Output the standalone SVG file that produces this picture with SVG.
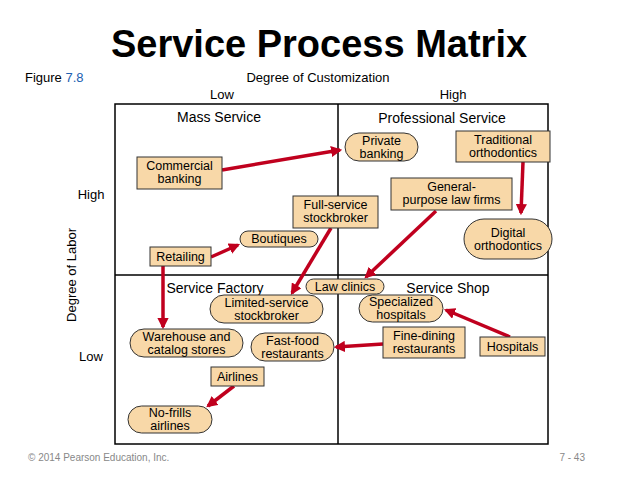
<svg xmlns="http://www.w3.org/2000/svg" width="638" height="478" viewBox="0 0 638 478">
<defs>
<style>
text{font-family:"Liberation Sans",Arial,sans-serif;fill:#000}
.n{fill:#f8d8a8;stroke:#333;stroke-width:1}
.t{font-size:12.5px;text-anchor:middle}
.q{font-size:14px;text-anchor:middle}
.c{stroke:#c0001e;stroke-width:3.5;fill:none;marker-end:url(#a)}
.g{stroke:#000;stroke-width:1.5;fill:none}
</style>
<marker id="a" viewBox="0 0 10 10" refX="8" refY="5" markerWidth="3.2" markerHeight="3.2" orient="auto"><path d="M0,0L10,5L0,10z" fill="#c0001e"/></marker>
</defs>
<rect width="638" height="478" fill="#fff"/>
<text x="319" y="57" style="font-size:38px;font-weight:bold;text-anchor:middle">Service Process Matrix</text>
<text x="25" y="82" style="font-size:13px">Figure <tspan fill="#2060b0">7.8</tspan></text>
<text x="318" y="82" class="q" style="font-size:13px">Degree of Customization</text>
<text x="222" y="99" class="q" style="font-size:13px">Low</text>
<text x="453" y="99" class="q" style="font-size:13px">High</text>
<text x="91" y="199" class="q" style="font-size:13px">High</text>
<text x="91" y="361" class="q" style="font-size:13px">Low</text>
<text transform="translate(76,275) rotate(-90)" class="q" style="font-size:13px">Degree of Labor</text>
<g id="grid">
<rect x="115" y="104" width="433" height="340" class="g"/>
<line x1="338" y1="104" x2="338" y2="444" class="g"/>
<line x1="115" y1="275" x2="548" y2="275" class="g"/>
<text x="219" y="122" class="q">Mass Service</text>
<text x="442" y="123" class="q">Professional Service</text>
<text x="215" y="293" class="q">Service Factory</text>
<text x="448" y="293" class="q">Service Shop</text>
</g>
<g id="connectors">
<line x1="222" y1="170" x2="340" y2="150" class="c"/>
<line x1="523" y1="162" x2="521" y2="213" class="c"/>
<line x1="436" y1="211" x2="366" y2="277" class="c"/>
<line x1="331" y1="228" x2="292" y2="293" class="c"/>
<line x1="211" y1="257" x2="238" y2="245" class="c"/>
<line x1="163" y1="266" x2="163" y2="327" class="c"/>
<line x1="383" y1="344" x2="336" y2="347" class="c"/>
<line x1="510" y1="337" x2="446" y2="310" class="c"/>
<line x1="234" y1="386" x2="208" y2="406" class="c"/>
</g>
<g id="commercial"><rect x="137" y="157" width="85" height="32" class="n"/><text x="179.5" y="170" class="t">Commercial</text><text x="179.5" y="183" class="t">banking</text></g>
<g id="private"><rect x="345" y="133" width="73" height="28" rx="14" class="n"/><text x="381.5" y="145" class="t">Private</text><text x="381.5" y="158" class="t">banking</text></g>
<g id="trad"><rect x="456" y="131" width="94" height="31" class="n"/><text x="503" y="144" class="t">Traditional</text><text x="503" y="157" class="t">orthodontics</text></g>
<g id="general"><rect x="391" y="178" width="121" height="32" class="n"/><text x="451.5" y="191" class="t">General-</text><text x="451.5" y="204" class="t">purpose law firms</text></g>
<g id="fullservice"><rect x="293" y="196" width="85" height="32" class="n"/><text x="335.5" y="209" class="t">Full-service</text><text x="335.5" y="222" class="t">stockbroker</text></g>
<g id="digital"><rect x="464" y="219" width="88" height="40" rx="20" class="n"/><text x="508" y="237" class="t">Digital</text><text x="508" y="250" class="t">orthodontics</text></g>
<g id="boutiques"><rect x="240" y="231" width="78" height="16" rx="8" class="n"/><text x="279" y="243" class="t">Boutiques</text></g>
<g id="retailing"><rect x="150" y="247" width="61" height="19" class="n"/><text x="180.5" y="261" class="t">Retailing</text></g>
<g id="lawclinics"><rect x="306" y="279" width="78" height="15" rx="7.5" class="n"/><text x="345" y="291" class="t">Law  clinics</text></g>
<g id="limited"><rect x="210" y="295" width="113" height="28" rx="14" class="n"/><text x="266.5" y="307" class="t">Limited-service</text><text x="266.5" y="320" class="t">stockbroker</text></g>
<g id="specialized"><rect x="359" y="295" width="84" height="27" rx="13.5" class="n"/><text x="401" y="306" class="t">Specialized</text><text x="401" y="319" class="t">hospitals</text></g>
<g id="warehouse"><rect x="130" y="329" width="113" height="28" rx="14" class="n"/><text x="186.5" y="341" class="t">Warehouse and</text><text x="186.5" y="354" class="t">catalog stores</text></g>
<g id="fastfood"><rect x="251" y="333" width="83" height="28" rx="14" class="n"/><text x="292.5" y="345" class="t">Fast-food</text><text x="292.5" y="358" class="t">restaurants</text></g>
<g id="finedining"><rect x="383" y="327" width="82" height="31" class="n"/><text x="424" y="340" class="t">Fine-dining</text><text x="424" y="353" class="t">restaurants</text></g>
<g id="hospitals"><rect x="480" y="337" width="65" height="19" class="n"/><text x="512.5" y="351" class="t">Hospitals</text></g>
<g id="airlines"><rect x="211" y="367" width="53" height="19" class="n"/><text x="237.5" y="381" class="t">Airlines</text></g>
<g id="nofrills"><rect x="128" y="406" width="84" height="27" rx="13.5" class="n"/><text x="170" y="417" class="t">No-frills</text><text x="170" y="430" class="t">airlines</text></g>
<text x="28" y="461" style="font-size:10px;fill:#888">© 2014 Pearson Education, Inc.</text>
<text x="585" y="461" style="font-size:10px;fill:#888;text-anchor:end">7 - 43</text>
</svg>
